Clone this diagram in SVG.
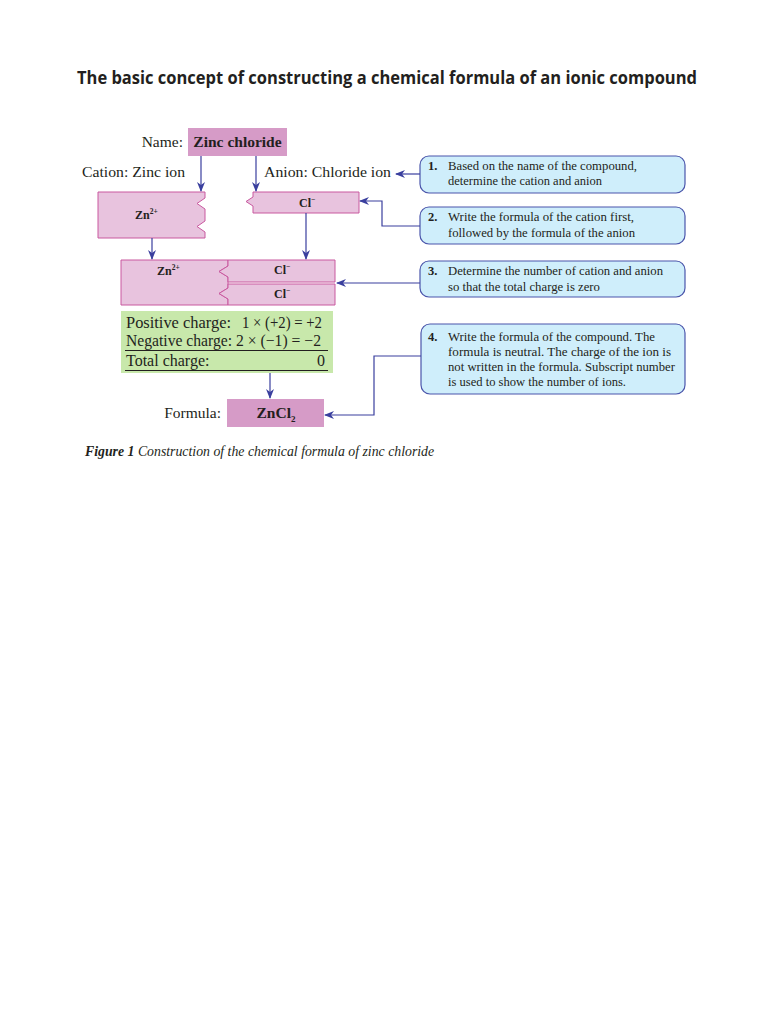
<svg xmlns="http://www.w3.org/2000/svg" width="768" height="1024" viewBox="0 0 768 1024">
<defs>
<style>
.ser{font-family:"Liberation Serif","Times New Roman",serif;fill:#231f20}
.lbl{font-size:15.5px}
.ion{fill:#e8c3de;stroke:#c9589f;stroke-width:1}
.nm{fill:#d69bc7}
.call{fill:#cfeefb;stroke:#4a55ab;stroke-width:1.2}
.ct{font-size:12.5px}
.con{fill:none;stroke:#3a3f9e;stroke-width:1.2}
.ib{font-size:12px;font-weight:bold}
</style>
<marker id="ah" viewBox="0 0 10 8" refX="9" refY="4" markerWidth="10" markerHeight="8" markerUnits="userSpaceOnUse" orient="auto">
<path d="M0,0 L10,4 L0,8 L3,4 Z" fill="#3a3f9e"/>
</marker>
</defs>
<rect width="768" height="1024" fill="#ffffff"/>
<text x="387" y="84" text-anchor="middle" font-family="'Open Sans','Noto Sans',sans-serif" font-weight="bold" font-size="17.5" fill="#231f20" textLength="620" lengthAdjust="spacingAndGlyphs">The basic concept of constructing a chemical formula of an ionic compound</text>

<g id="name">
<text class="ser lbl" x="183" y="147" text-anchor="end">Name:</text>
<rect class="nm" x="188" y="128" width="99" height="28"/>
<text class="ser" x="237.5" y="147" text-anchor="middle" font-size="15.5" font-weight="bold">Zinc chloride</text>
</g>
<g id="cation-label"><text class="ser lbl" x="82" y="177" textLength="103" lengthAdjust="spacingAndGlyphs">Cation: Zinc ion</text></g>
<g id="anion-label"><text class="ser lbl" x="264" y="177" textLength="127" lengthAdjust="spacingAndGlyphs">Anion: Chloride ion</text></g>

<g id="zn-box">
<path class="ion" d="M98,192 H205 V198 L197,203.5 L205,209 V221 L197,226.5 L205,232 V238 H98 Z"/>
<text class="ser ib" x="135" y="219">Zn<tspan font-size="7.5" dy="-5">2+</tspan></text>
</g>
<g id="cl-box">
<path class="ion" d="M253,192 H359 V213 H253 V206 L246,201.5 L253,197 Z"/>
<text class="ser ib" x="299" y="207">Cl<tspan font-size="7.5" dy="-5">−</tspan></text>
</g>

<g id="combined">
<path class="ion" d="M121,260 H228 V266 L219,271.5 L228,277 V288 L219,293.5 L228,299 V305 H121 Z"/>
<path class="ion" d="M228,260 H335 V282 H228 V277 L219,271.5 L228,266 Z"/>
<path class="ion" d="M228,284 H335 V305 H228 V299 L219,293.5 L228,288 Z"/>
<text class="ser ib" x="157" y="275">Zn<tspan font-size="7.5" dy="-5">2+</tspan></text>
<text class="ser ib" x="274" y="274">Cl<tspan font-size="7.5" dy="-5">−</tspan></text>
<text class="ser ib" x="274" y="298">Cl<tspan font-size="7.5" dy="-5">−</tspan></text>
</g>

<g id="charge">
<rect x="121" y="311" width="212" height="62" fill="#c8e8ab"/>
<text class="ser" font-size="16" x="126" y="328"><tspan textLength="105" lengthAdjust="spacingAndGlyphs">Positive charge:</tspan><tspan x="242" textLength="80" lengthAdjust="spacingAndGlyphs">1 × (+2) = +2</tspan></text>
<text class="ser" font-size="16" x="126" y="346"><tspan textLength="106" lengthAdjust="spacingAndGlyphs">Negative charge:</tspan><tspan x="236" textLength="85" lengthAdjust="spacingAndGlyphs">2 × (−1) = −2</tspan></text>
<line x1="125" y1="350.5" x2="328" y2="350.5" stroke="#231f20" stroke-width="1"/>
<text class="ser" font-size="16" x="126" y="366">Total  charge:</text>
<text class="ser" font-size="16" x="325" y="366" text-anchor="end">0</text>
<line x1="125" y1="370.5" x2="328" y2="370.5" stroke="#231f20" stroke-width="1"/>
</g>

<g id="formula">
<text class="ser lbl" x="221" y="418" text-anchor="end">Formula:</text>
<rect class="nm" x="227" y="399" width="97" height="28"/>
<text class="ser" x="276" y="418" text-anchor="middle" font-size="15.5" font-weight="bold">ZnCl<tspan font-size="9" dy="4">2</tspan></text>
</g>

<g id="step1">
<rect class="call" x="420" y="156" width="265" height="37" rx="9"/>
<text class="ser ct" x="428" y="170" font-weight="bold">1.</text>
<text class="ser ct" x="448" y="170" textLength="189" lengthAdjust="spacingAndGlyphs">Based on the name of the compound,</text>
<text class="ser ct" x="448" y="185" textLength="154" lengthAdjust="spacingAndGlyphs">determine the cation and anion</text>
</g>
<g id="step2">
<rect class="call" x="420" y="207" width="265" height="37" rx="9"/>
<text class="ser ct" x="428" y="221" font-weight="bold">2.</text>
<text class="ser ct" x="448" y="221" textLength="186" lengthAdjust="spacingAndGlyphs">Write the formula of the cation first,</text>
<text class="ser ct" x="448" y="237" textLength="187" lengthAdjust="spacingAndGlyphs">followed by the formula of the anion</text>
</g>
<g id="step3">
<rect class="call" x="420" y="261" width="265" height="36" rx="9"/>
<text class="ser ct" x="428" y="275" font-weight="bold">3.</text>
<text class="ser ct" x="448" y="275" textLength="215" lengthAdjust="spacingAndGlyphs">Determine the number of cation and anion</text>
<text class="ser ct" x="448" y="291" textLength="152" lengthAdjust="spacingAndGlyphs">so that the total charge is zero</text>
</g>
<g id="step4">
<rect class="call" x="421" y="324" width="264" height="70" rx="9"/>
<text class="ser ct" x="428" y="341" font-weight="bold">4.</text>
<text class="ser ct" x="448" y="341" textLength="207" lengthAdjust="spacingAndGlyphs">Write the formula of the compound. The</text>
<text class="ser ct" x="448" y="356" textLength="223" lengthAdjust="spacingAndGlyphs">formula is neutral. The charge of the ion is</text>
<text class="ser ct" x="448" y="371" textLength="227" lengthAdjust="spacingAndGlyphs">not written in the formula. Subscript number</text>
<text class="ser ct" x="448" y="386" textLength="178" lengthAdjust="spacingAndGlyphs">is used to show the number of ions.</text>
</g>

<g id="connectors">
<path class="con" d="M201,156 V191" marker-end="url(#ah)"/>
<path class="con" d="M256,156 V191" marker-end="url(#ah)"/>
<path class="con" d="M152,238 V259" marker-end="url(#ah)"/>
<path class="con" d="M306,213 V259" marker-end="url(#ah)"/>
<path class="con" d="M270,373 V398" marker-end="url(#ah)"/>
<path class="con" d="M420,174 H396" marker-end="url(#ah)"/>
<path class="con" d="M420,226 H382 V201 H360" marker-end="url(#ah)"/>
<path class="con" d="M420,283 H337" marker-end="url(#ah)"/>
<path class="con" d="M421,356 H374 V415 H325" marker-end="url(#ah)"/>
</g>

<g id="caption">
<text class="ser" x="85" y="456" font-size="13.8" font-style="italic"><tspan font-weight="bold">Figure 1</tspan> Construction of the chemical formula of zinc chloride</text>
</g>
</svg>
